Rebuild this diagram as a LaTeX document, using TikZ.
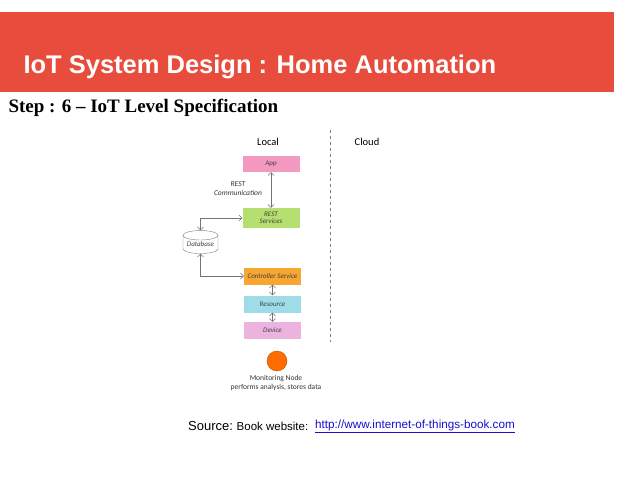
\documentclass[tikz,border=0pt]{standalone}
\usepackage{fontspec}
\setmainfont{Liberation Sans}
\newfontfamily\carl{Carlito}
\newfontfamily\tms{Liberation Serif}
\usetikzlibrary{shapes.geometric,arrows.meta}
\definecolor{bannerred}{HTML}{E84C3D}
\definecolor{apppink}{HTML}{F49AC1}
\definecolor{restgreen}{HTML}{B5DF6E}
\definecolor{ctrlorange}{HTML}{F7A632}
\definecolor{resblue}{HTML}{9EDDE8}
\definecolor{devpink}{HTML}{EDB2DE}
\definecolor{linkblue}{HTML}{1A0DCC}
\begin{document}
\begin{tikzpicture}[x=1pt,y=-1pt,
  boxs/.style={minimum width=57pt,minimum height=17pt,inner sep=0pt,font=\carl\itshape\fontsize{7}{7.5}\selectfont,align=center,text=black!75},
  conn/.style={draw=gray!90!black,line width=0.5pt,{Straight Barb[length=3pt]}-{Straight Barb[length=3pt]}},
  lbl/.style={font=\carl\fontsize{7.5}{9}\selectfont,align=center,text=black!80}]
\useasboundingbox (0,0) rectangle (638,479);
\fill[white] (0,0) rectangle (638,479);
\fill[bannerred] (0,12) rectangle (614,92);
\node[anchor=west,text=white,font=\bfseries\fontsize{25.5}{28}\selectfont] (title) at (20,67) {IoT System Design : Home Automation};
\node[anchor=west,font=\tms\bfseries\fontsize{19}{21}\selectfont] (step) at (5,108) {Step : 6 – IoT Level Specification};
\node[font=\carl\fontsize{10.5}{12}\selectfont] (local) at (268,142) {Local};
\node[font=\carl\fontsize{10.5}{12}\selectfont] (cloud) at (367,142) {Cloud};
\coordinate (dtop) at (330,130);
\coordinate (dbot) at (330,342);
\draw[gray,dashed,line width=0.6pt] (dtop) -- (dbot);
\node[boxs,fill=apppink,minimum height=16pt] (app) at (271,164) {App};
\node[boxs,fill=restgreen,minimum height=20pt] (rest) at (271,218) {REST\\Services};
\node[lbl,font=\carl\itshape\fontsize{7.5}{9}\selectfont] (rc) at (238,189) {REST\\Communication};
\node[cylinder,shape border rotate=90,draw=gray,fill=white,minimum width=35pt,minimum height=23pt,aspect=0.35,inner sep=0pt,font=\carl\itshape\fontsize{7}{7.5}\selectfont,text=black!75] (db) at (200.5,244.5) {Database};
\node[boxs,fill=ctrlorange] (ctrl) at (272.5,276) {Controller Service};
\node[boxs,fill=resblue] (res) at (272.5,304) {Resource};
\node[boxs,fill=devpink] (dev) at (272.5,330.5) {Device};
\draw[conn] (app) -- (rest);
\draw[conn] (db.top) |- (rest.west);
\draw[conn] (db.bottom) |- (ctrl.west);
\draw[conn] (ctrl) -- (res);
\draw[conn] (res) -- (dev);
\node[circle,fill=orange!85!red,draw=orange!70!black,minimum size=20pt,inner sep=0pt] (mon) at (277,361) {};
\node[lbl] (montxt) at (276,382.5) {Monitoring Node\\performs analysis, stores data};
\node[anchor=west,inner sep=0pt] (src) at (188,426) {{\fontsize{13}{15}\selectfont Source:} {\fontsize{11.5}{13}\selectfont Book website:}};
\node[anchor=west,inner sep=0pt,text=linkblue,font=\fontsize{11.7}{13}\selectfont] (url) at (315,426) {\underline{http://www.internet-of-things-book.com}};
\end{tikzpicture}
\end{document}
